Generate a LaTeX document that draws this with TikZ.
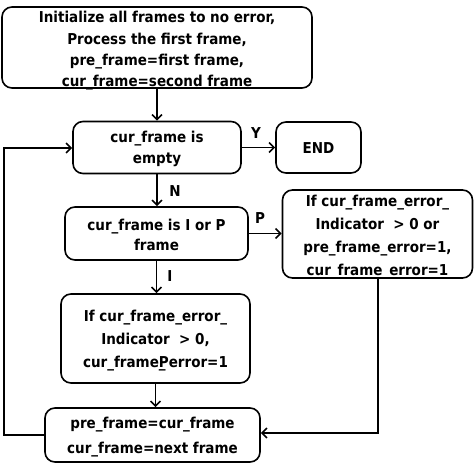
\documentclass[tikz,border=0pt]{standalone}
\usepackage{fontspec}
\setmainfont{DejaVu Sans Condensed}
\usetikzlibrary{arrows.meta}
\begin{document}
\begin{tikzpicture}[x=1pt,y=-1pt,
  box/.style={draw,line width=1.6pt,rounded corners=10pt,inner sep=0pt,align=center,fill=none},
  txt/.style={font=\fontsize{15}{20.5}\selectfont\bfseries,align=center,inner sep=0pt},
  lbl/.style={font=\fontsize{15}{15}\selectfont\bfseries,inner sep=0pt},
  arr/.style={line width=1.6pt,-{Straight Barb[length=5pt,width=10pt,line width=1.6pt]}},
  ln/.style={line width=1.6pt}]
\useasboundingbox (0,0) rectangle (474,464);
\fill[white] (0,0) rectangle (474,464);
% boxes
\node[box,minimum width=310pt,minimum height=81pt] (b1) at (157,47.5) {};
\node[txt,font=\fontsize{15}{21.3}\selectfont\bfseries] (t1) at (157,51) {Initialize all frames to no error,\\Process the first frame,\\pre\_frame=first frame,\\cur\_frame=second frame};
\node[box,minimum width=168pt,minimum height=52pt] (b2) at (157,147.5) {};
\node[txt] (t2) at (157,149) {cur\_frame is\\empty};
\node[box,minimum width=85pt,minimum height=51pt] (b7) at (318.5,147.5) {};
\node[txt] (t7) at (318.5,148) {END};
\node[box,minimum width=183pt,minimum height=53pt] (b3) at (156.5,233.5) {};
\node[txt] (t3) at (156.5,235) {cur\_frame is I or P\\frame};
\node[box,minimum width=190pt,minimum height=88pt] (b4) at (377.5,234) {};
\node[txt,font=\fontsize{15}{23}\selectfont\bfseries] (t4) at (377.5,237) {If cur\_frame\_error\_\\Indicator \ > 0 or\\pre\_frame\_error=1,\\cur\_frame\_error=1};
\node[box,minimum width=189pt,minimum height=89pt] (b5) at (155.5,338.5) {};
\node[txt,font=\fontsize{15}{23}\selectfont\bfseries] (t5) at (155.5,340.5) {If cur\_frame\_error\_\\Indicator \ > 0,\\cur\_frame\rlap{\_}Perror=1};
\node[box,minimum width=215pt,minimum height=54pt] (b6) at (152.5,435) {};
\node[txt,font=\fontsize{15}{25}\selectfont\bfseries] (t6) at (152.5,437) {pre\_frame=cur\_frame\\cur\_frame=next frame};
% connectors
\draw[arr] (b1.south) -- (b1.south |- b2.north);
\draw[arr] (b2.east) -- (b7.west);
\draw[arr] (b2.south) -- (b2.south |- b3.north);
\draw[arr] (b3.east) -- (b3.east -| b4.west);
\draw[arr] (b3.south) -- (b5.north -| b3.south);
\draw[arr] (b5.south) -- (b6.north -| b5.south);
\coordinate (c1) at (378,433);
\draw[arr] (b4.south -| c1) -- (c1) -- (c1 -| b6.east);
\coordinate (c2) at (4,435);
\coordinate (c3) at (4,148);
\draw[arr] (b6.west |- c2) -- (c2) -- (c3) -- (b2.west |- c3);
% labels
\node[lbl] (ly) at (256,133) {Y};
\node[lbl] (ln) at (175,191) {N};
\node[lbl] (lp) at (260,218) {P};
\node[lbl] (li) at (170,276) {I};
\end{tikzpicture}
\end{document}
